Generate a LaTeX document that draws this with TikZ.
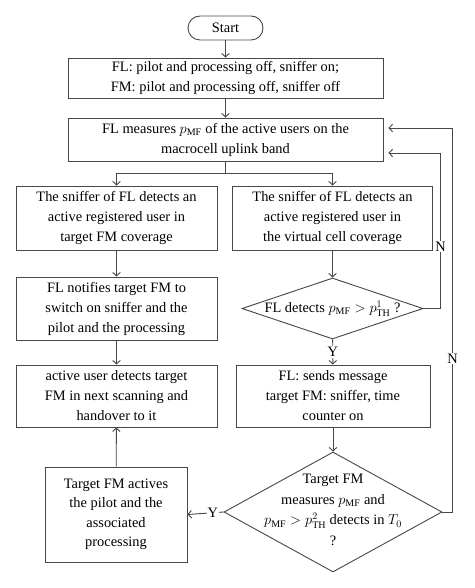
\documentclass[tikz,border=0pt]{standalone}
\usepackage{fontspec}
\setmainfont{Liberation Serif}
\usepackage{amsmath}
\usetikzlibrary{arrows,arrows.meta,calc,positioning,shapes.geometric}
\tikzset{
  flow/.style={line width=0.9pt, draw=black!72},
  box/.style={flow, rectangle, align=center, inner sep=0pt, font=\fontsize{14.4}{20}\selectfont},
  startbox/.style={box, rounded corners=12pt, minimum width=75pt, minimum height=24pt},
  dia/.style={flow, diamond, inner sep=0pt},
  diatext/.style={align=center, inner sep=0pt, font=\fontsize{14.4}{20.5}\selectfont},
  yn/.style={fill=white, inner sep=1pt, font=\fontsize{14.4}{16}\selectfont},
}
\begin{document}
\begin{tikzpicture}[x=1pt, y=-1pt, >={Straight Barb[length=3.5pt,width=7.5pt]}]
\pgfmathsetmacro{\colL}{116.5}
\pgfmathsetmacro{\colR}{332.5}
\useasboundingbox (0,0) rectangle (474,588);
\fill[white] (0,0) rectangle (474,588);

% top part
\node[startbox] (start) at (225.5,28) {Start};
\node[box, minimum width=315pt, minimum height=40pt] (init) at (225.5,78)
  {FL: pilot and processing off, sniffer on;\\ FM: pilot and processing off, sniffer off};
\node[box, minimum width=315pt, minimum height=43pt] (meas) at (225.5,139.5)
  {FL measures $p_{\mathrm{MF}}$ of the active users on the\\ macrocell uplink band};
\coordinate (split) at (225.5,173);

% left column
\node[box, minimum width=201pt, minimum height=64pt] (detL) at (\colL,218)
  {The sniffer of FL detects an\\ active registered user in\\ target FM coverage};
\node[box, minimum width=201pt, minimum height=63pt] (notify) at (\colL,308.5)
  {FL notifies target FM to\\ switch on sniffer and the\\ pilot and the processing};
\node[box, minimum width=201pt, minimum height=62pt] (handover) at (\colL,396)
  {active user detects target\\ FM in next scanning and\\ handover to it};
\node[box, minimum width=142pt, minimum height=95pt, font=\fontsize{14.4}{19.5}\selectfont] (activ) at (116,514.5)
  {Target FM actives\\ the pilot and the\\ associated\\ processing};

% right column
\node[box, minimum width=200pt, minimum height=64pt] (detR) at (\colR,218)
  {The sniffer of FL detects an\\ active registered user in\\ the virtual cell coverage};
\node[dia, minimum width=181pt, minimum height=61pt] (chk1) at (\colR,308.5) {};
\node[diatext] (chk1t) at (chk1) {FL detects $p_{\mathrm{MF}} > p_{\mathrm{TH}}^{1}$ ?};
\node[box, minimum width=194pt, minimum height=62pt] (send) at (333,396)
  {FL: sends message\\ target FM: sniffer, time\\ counter on};
\node[dia, minimum width=218pt, minimum height=120pt] (chk2) at (333,512) {};
\node[diatext] (chk2t) at (333,510)
  {Target FM\\ measures $p_{\mathrm{MF}}$ and\\ $p_{\mathrm{MF}} > p_{\mathrm{TH}}^{2}$ detects in $T_0$\\ ?};

% connectors
\draw[flow,->] (start) -- (init);
\draw[flow,->] (init) -- (meas);
\draw[flow] (meas.south) -- (split);
\draw[flow,->] (split) -| (detL.north);
\draw[flow,->] (split) -| (detR.north);
\draw[flow,->] (detL) -- (notify);
\draw[flow,->] (notify) -- (handover);
\draw[flow,->] (activ) -- (handover);
\draw[flow,->] (detR) -- (chk1);
\draw[flow,->] (chk1) -- node[yn] {Y} (send);
\draw[flow,->] (send) -- (chk2);
\draw[flow,->] (chk2.west) -- node[yn, pos=0.3] {Y} (activ.east);
\draw[flow,->, shorten >=5pt] (chk1.east) -- ++(17,0) |- node[yn, pos=0.2] {N} ([yshift=-13.5pt]meas.east);
\draw[flow,->, shorten >=5pt] (chk2.east) -- ++(10,0) |- node[yn, pos=0.2] {N} ([yshift=11.5pt]meas.east);
\end{tikzpicture}
\end{document}
